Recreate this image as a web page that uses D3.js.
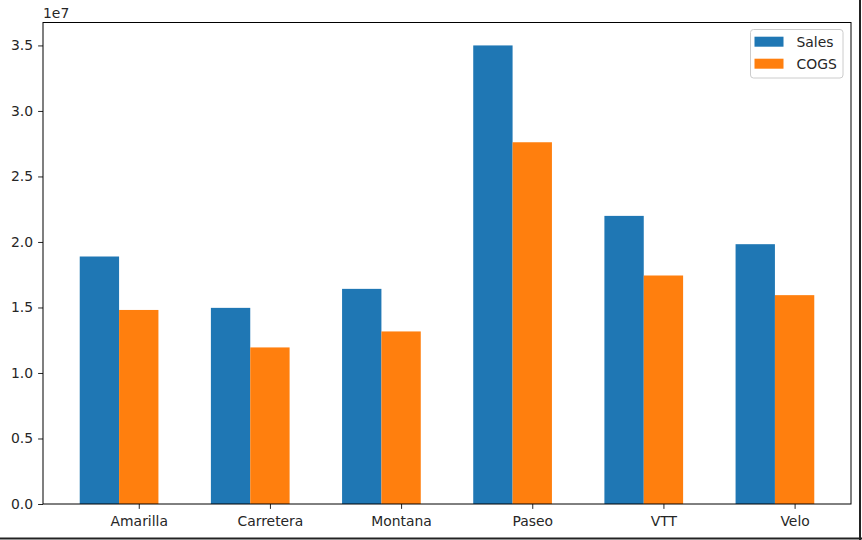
<!DOCTYPE html>
<html><head><meta charset="utf-8">
<script src="https://cdn.jsdelivr.net/npm/d3@7"></script>
<style>body{margin:0;background:#fff}svg{display:block}text{font-family:"DejaVu Sans",sans-serif;fill:#262626}</style>
</head><body><svg id="c" width="862" height="540"></svg>
<script>
const categories = ["Amarilla","Carretera","Montana","Paseo","VTT","Velo"];
const sales = [18.89e6, 14.97e6, 16.42e6, 35.0e6, 21.99e6, 19.83e6];
const cogs  = [14.81e6, 11.95e6, 13.17e6, 27.61e6, 17.44e6, 15.94e6];
const seriesNames = ["Sales","COGS"];
const colors = ["#1f77b4","#ff7f0e"];
const yTicks = [0,0.5e7,1.0e7,1.5e7,2.0e7,2.5e7,3.0e7,3.5e7];

const FS = "13.9px";
const svg = d3.select("#c");
const L=43, R=851, T=22.5, B=504;
const barW = 0.3;
const x = d3.scaleLinear().domain([-0.43, 5.73]).range([L,R]);
const y = d3.scaleLinear().domain([0, 35.0e6*1.05]).range([B,T]);

const g = svg.append("g");
[sales, cogs].forEach((vals,s)=>{
  g.selectAll(null).data(vals).enter().append("rect")
    .attr("x",(d,i)=>x(i + s*barW - barW/2))
    .attr("width",x(barW)-x(0))
    .attr("y",d=>y(d))
    .attr("height",d=>y(0)-y(d))
    .attr("fill",colors[s]);
});

// axes
const xa = svg.append("g").attr("transform",`translate(0,${B})`)
  .call(d3.axisBottom(x).tickValues(categories.map((c,i)=>i+barW)).tickFormat((d,i)=>categories[i]).tickSize(4.9).tickPadding(7));
const ya = svg.append("g").attr("transform",`translate(${L},0)`)
  .call(d3.axisLeft(y).tickValues(yTicks).tickFormat(d=>(d/1e7).toFixed(1)).tickSize(4.9).tickPadding(5));
[xa,ya].forEach(a=>{
  a.select(".domain").remove();
  a.selectAll("line").attr("stroke","#262626").attr("stroke-width",1);
  a.selectAll("text").style("font-size",FS).style("font-family","DejaVu Sans").attr("fill","#262626");
});
// spines
svg.append("rect").attr("x",L).attr("y",T).attr("width",R-L).attr("height",B-T)
  .attr("fill","none").attr("stroke","#000").attr("stroke-width",1);

svg.append("text").attr("x",L).attr("y",18).style("font-size",FS).text("1e7");

// legend
const lg = svg.append("g");
lg.append("rect").attr("x",750.5).attr("y",29.5).attr("width",92.5).attr("height",48.5)
  .attr("rx",3).attr("fill","#fff").attr("fill-opacity",0.8).attr("stroke","#ccc").attr("stroke-width",1);
seriesNames.forEach((n,i)=>{
  lg.append("rect").attr("x",754.5).attr("y",36.7+i*22).attr("width",29).attr("height",10).attr("fill",colors[i]);
  lg.append("text").attr("x",796.5).attr("y",46.8+i*22).style("font-size",FS).text(n);
});

// outer frame (right & bottom)
svg.append("line").attr("x1",860).attr("x2",860).attr("y1",0).attr("y2",540).attr("stroke","#222").attr("stroke-width",2);
svg.append("line").attr("x1",0).attr("x2",862).attr("y1",538.5).attr("y2",538.5).attr("stroke","#222").attr("stroke-width",2);
</script></body></html>
